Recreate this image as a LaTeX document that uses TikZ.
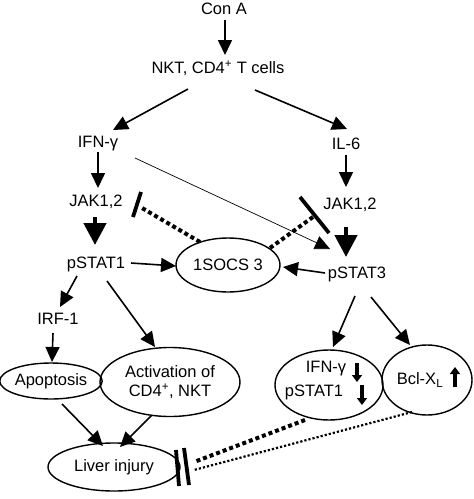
\documentclass[tikz,border=0pt]{standalone}
\usepackage{fontspec}
\setmainfont{Liberation Sans}
\usetikzlibrary{shapes.geometric,arrows.meta,calc}
\begin{document}
\begin{tikzpicture}[x=1pt,y=-1pt,
  txt/.style={font=\fontsize{16.5}{19}\selectfont, inner sep=0pt, align=center},
  ell/.style={ellipse, draw, line width=1.4pt, inner sep=0pt, font=\fontsize{16.5}{19}\selectfont, align=center},
  arr/.style={line width=1.6pt, -{Triangle[length=15pt,width=14pt]}},
  bigarr/.style={line width=4.5pt, -{Triangle[length=22pt,width=22pt]}},
  thinarr/.style={line width=0.7pt, -{Triangle[length=15pt,width=14pt]}},
  blockarr/.style={line width=4.5pt, -{Triangle[length=7pt,width=10pt]}},
  dotthick/.style={line width=4pt, dash pattern=on 4pt off 3pt},
  dotthin/.style={line width=2.2pt, dash pattern=on 2.2pt off 2pt},
  inhbar/.style={line width=3.8pt}
]
\useasboundingbox (0,0) rectangle (474,499);

% nodes
\node[txt] (cona) at (224,9) {Con A};
\node[txt] (nkt) at (218,68) {NKT, CD4\textsuperscript{+} T cells};
\node[txt] (ifn) at (98,144) {IFN-γ};
\node[txt] (il6) at (346,144) {IL-6};
\node[txt] (jakl) at (96,202) {JAK1,2};
\node[txt] (jakr) at (350,205) {JAK1,2};
\node[txt] (pstat1) at (96,264) {pSTAT1};
\node[txt] (pstat3) at (357,274) {pSTAT3};
\node[ell, minimum width=104pt, minimum height=54pt] (socs) at (228,265) {1SOCS 3};
\node[txt] (irf) at (58,319) {IRF-1};
\node[ell, minimum width=94pt, minimum height=36pt] (apop) at (51,381) {Apoptosis};
\node[ell, minimum width=140pt, minimum height=69pt] (act) at (170,382) {Activation of\\CD4\textsuperscript{+}, NKT};
\node[ell, minimum width=132pt, minimum height=48pt] (liver) at (114,467) {Liver injury};
\node[ell, minimum width=108pt, minimum height=70pt] (ifnp) at (329,385) {};
\node[txt] (ifn2) at (326,369) {IFN-γ};
\node[txt] (ps1b) at (314,392) {pSTAT1};
\node[ell, minimum width=90pt, minimum height=70pt] (bcl) at (427,380) {};
\node[txt] (bclt) at (420,380) {Bcl-X\textsubscript{L}};

% connectors
\draw[arr] ($(cona)+(1,11)$) -- ($(nkt)+(7,-13)$);
\draw[arr] ($(nkt)+(-30,21)$) -- ($(ifn)+(15,-14)$);
\draw[arr] ($(nkt)+(37,22)$) -- ($(il6)+(1,-15)$);
\draw[thinarr] ($(ifn)+(37,14)$) -- ($(pstat3)+(-27,-25)$);
\draw[arr] ($(ifn)+(0,8)$) -- ($(jakl)+(2,-14)$);
\draw[arr] ($(il6)+(0,11)$) -- ($(jakr)+(-4,-18)$);
\draw[bigarr] ($(jakl)+(-1,15)$) -- ($(pstat1)+(-1,-19)$);
\draw[bigarr] ($(jakr)+(-4,22)$) -- ($(pstat3)+(-11,-17)$);
\draw[arr] ($(pstat1)+(35,-1)$) -- ($(socs)+(-52,1)$);
\draw[arr] ($(pstat3)+(-32,-1)$) -- ($(socs)+(55,2)$);
% inhibitions by SOCS3
\draw[dotthick] ($(socs)+(-28,-23)$) -- ($(jakl)+(46,6)$);
\draw[inhbar] ($(jakl)+(45,-10)$) -- ($(jakl)+(37,15)$);
\draw[dotthick] ($(socs)+(42,-17)$) -- ($(jakr)+(-37,12)$);
\draw[inhbar] ($(jakr)+(-50,-8)$) -- ($(jakr)+(-21,28)$);
% lower left
\draw[arr] ($(pstat1)+(-19,12)$) -- ($(irf)+(2,-12)$);
\draw[arr] ($(pstat1)+(11,17)$) -- ($(act)+(-15,-35)$);
\draw[arr] ($(irf)+(-5,14)$) -- ($(apop)+(1,-19)$);
\draw[arr] ($(apop)+(11,23)$) -- ($(liver)+(-11,-21)$);
\draw[arr] ($(act)+(-18,33)$) -- ($(liver)+(6,-20)$);
% lower right
\draw[arr] ($(pstat3)+(-2,22)$) -- ($(ifnp)+(4,-38)$);
\draw[arr] ($(pstat3)+(14,23)$) -- ($(bcl)+(-17,-35)$);
\draw[blockarr] ($(ifn2)+(31,-6)$) -- ($(ifn2)+(31,13)$);
\draw[blockarr] ($(ps1b)+(48,-7)$) -- ($(ps1b)+(48,13)$);
\draw[blockarr] ($(bclt)+(35,7)$) -- ($(bclt)+(35,-13)$);
% inhibition of liver injury
\draw[dotthick] ($(ifnp)+(-24,35)$) -- ($(liver)+(80,-5)$);
\draw[dotthin] ($(bcl)+(-15,32)$) -- ($(liver)+(80,3)$);
\draw[inhbar] ($(liver)+(62,-17)$) -- ($(liver)+(65,19)$);
\draw[inhbar] ($(liver)+(70,-19)$) -- ($(liver)+(75,18)$);
\end{tikzpicture}
\end{document}
